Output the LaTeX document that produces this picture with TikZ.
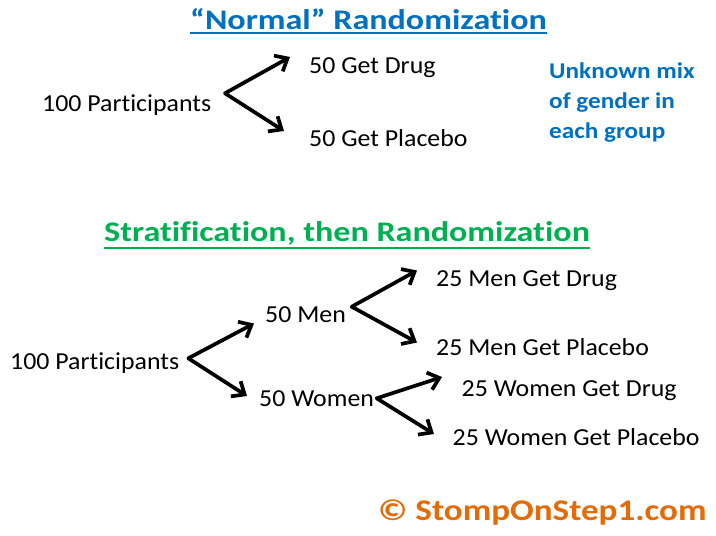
\documentclass[tikz,border=0pt]{standalone}
\usepackage{fontspec}
\setmainfont[Ligatures=NoCommon]{Carlito}
\newfontfamily\lblfont[FakeStretch=1.06,Ligatures=NoCommon]{Carlito}
\newfontfamily\ttlfont[FakeStretch=1.2,Ligatures=NoCommon]{Carlito}
\newfontfamily\notefont[FakeStretch=1.12,Ligatures=NoCommon]{Carlito}
\newfontfamily\cpfont[FakeStretch=1.17,Ligatures=NoCommon]{Carlito}
\usetikzlibrary{arrows.meta}
\definecolor{tblue}{HTML}{0070C0}
\definecolor{tgreen}{HTML}{00B050}
\definecolor{torange}{HTML}{E36C09}
\tikzset{
  lbl/.style={anchor=base west, inner sep=0pt, font=\lblfont\fontsize{24.4}{28}\selectfont},
  ttl/.style={anchor=base west, inner sep=0pt, font=\ttlfont\fontsize{28.4}{32}\selectfont\bfseries},
  arr/.style={line width=3.7pt, line cap=round, line join=round, -{Straight Barb[length=10.5pt,width=18pt,line width=3.7pt]}},
  uline/.style={line width=2pt},
}
\begin{document}
\begin{tikzpicture}[x=1pt,y=-1pt]
\useasboundingbox[fill=white] (0,0) rectangle (716,536);
% top section
\node[ttl, text=tblue] (t1) at (190,29.3) {“Normal” Randomization};
\draw[uline, tblue] ([yshift=-4pt]t1.base west) -- ([yshift=-4pt]t1.base east);
\node[lbl] (a0) at (42,111) {100 Participants};
\node[lbl] (a1) at (309,73) {50 Get Drug};
\node[lbl] (a2) at (309,146) {50 Get Placebo};
\coordinate (av) at (225,93.3);
\coordinate (a1t) at (290,57);
\coordinate (a2t) at (284,131);
\draw[arr] (av) -- (a1t);
\draw[arr] (av) -- (a2t);
\node[anchor=base west, inner sep=0pt, align=left, text=tblue, font=\notefont\fontsize{22.5}{30}\selectfont\bfseries] (note) at (549,138.3) {Unknown mix\\of gender in\\each group};
% bottom section
\node[ttl, text=tgreen] (t2) at (104,241) {Stratification, then Randomization};
\draw[uline, tgreen] ([yshift=-7pt]t2.base west) -- ([yshift=-7pt]t2.base east);
\node[lbl] (b0) at (10,369) {100 Participants};
\node[lbl] (bm) at (265,322) {50 Men};
\node[lbl] (bw) at (259,406.5) {50 Women};
\node[lbl] (bm1) at (436,286.5) {25 Men Get Drug};
\node[lbl] (bm2) at (436,355.5) {25 Men Get Placebo};
\node[lbl] (bw1) at (461.5,396.5) {25 Women Get Drug};
\node[lbl] (bw2) at (452.5,445) {25 Women Get Placebo};
\coordinate (bv) at (188.3,358.3);
\coordinate (bvm) at (254,323.5);
\coordinate (bvw) at (247,396);
\draw[arr] (bv) -- (bvm);
\draw[arr] (bv) -- (bvw);
\coordinate (mv) at (351.7,306.7);
\coordinate (mv1) at (417,270.5);
\coordinate (mv2) at (417,342.5);
\draw[arr] (mv) -- (mv1);
\draw[arr] (mv) -- (mv2);
\coordinate (wv) at (376.7,398.3);
\coordinate (wv1) at (442,377);
\coordinate (wv2) at (434,434);
\draw[arr] (wv) -- (wv1);
\draw[arr] (wv) -- (wv2);
% copyright
\node[anchor=base west, inner sep=0pt, text=torange, font=\cpfont\fontsize{30}{34}\selectfont\bfseries] (cp) at (378,520.7) {© StompOnStep1.com};
\end{tikzpicture}
\end{document}
